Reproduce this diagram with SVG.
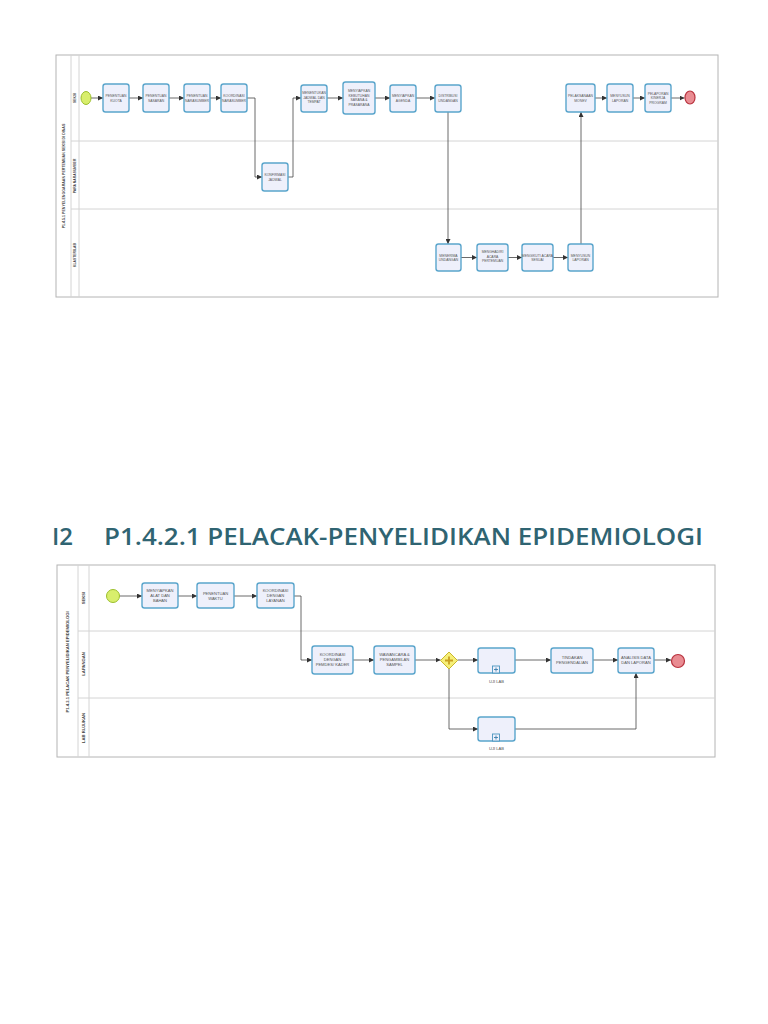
<svg xmlns="http://www.w3.org/2000/svg" width="768" height="1024" viewBox="0 0 768 1024">
<defs>
<marker id="ah" viewBox="0 0 6 6" refX="6" refY="3" markerWidth="5" markerHeight="5" orient="auto" markerUnits="userSpaceOnUse"><path d="M0,0 L6,3 L0,6 Z" fill="#333"/></marker>
<style>
.pool{fill:#fff;stroke:#b4b4b4;stroke-width:1}
.lane{stroke:#d4d4d4;stroke-width:1;fill:none}
.task{fill:#eef0fb;stroke:#5aa5cc;stroke-width:1.4}
.t{font-family:"Liberation Sans",Arial,sans-serif;fill:#555;text-anchor:middle}
.s{font-size:3.4px}
.m{font-size:4.1px}
.lbl{font-family:"Liberation Sans",Arial,sans-serif;fill:#444;text-anchor:middle;font-weight:bold}
.c{fill:none;stroke:#444;stroke-width:0.8;marker-end:url(#ah)}
.start{fill:#d8ee6c;stroke:#9cbf2c;stroke-width:1}
.end{fill:#e98c92;stroke:#b8323e;stroke-width:1.2}
</style>
</defs>
<rect width="768" height="1024" fill="#fff"/>

<!-- Diagram 1 -->
<g id="pool1">
<rect class="pool" x="56" y="55" width="662" height="242"/>
<line class="lane" x1="71" y1="55" x2="71" y2="297"/>
<line class="lane" x1="79" y1="55" x2="79" y2="297"/>
<line class="lane" x1="71" y1="141" x2="718" y2="141"/>
<line class="lane" x1="71" y1="209" x2="718" y2="209"/>
<text class="lbl" font-size="3.6" transform="translate(64.5,176) rotate(-90)">P1.4.5.1 PENYELENGGARAAN PERTEMUAN SEKSI DI DINAS</text>
<text class="lbl" font-size="3.4" transform="translate(76,98) rotate(-90)">SEKSI</text>
<text class="lbl" font-size="3.4" transform="translate(76,176) rotate(-90)">PARA NARASUMBER</text>
<text class="lbl" font-size="3.4" transform="translate(76,255) rotate(-90)">KLASTER/LAB</text>
</g>

<g id="connectors1">
<line class="c" x1="91" y1="98" x2="103" y2="98"/>
<line class="c" x1="129" y1="98" x2="143" y2="98"/>
<line class="c" x1="169" y1="98" x2="184" y2="98"/>
<line class="c" x1="210" y1="98" x2="221" y2="98"/>
<polyline class="c" points="247,98 255,98 255,177 262,177"/>
<polyline class="c" points="288,177 293,177 293,98 301,98"/>
<line class="c" x1="327" y1="98" x2="343" y2="98"/>
<line class="c" x1="375" y1="98" x2="390" y2="98"/>
<line class="c" x1="416" y1="98" x2="435" y2="98"/>
<line class="c" x1="448" y1="112" x2="448" y2="244"/>
<line class="c" x1="461" y1="257.5" x2="477" y2="257.5"/>
<line class="c" x1="508" y1="257.5" x2="522" y2="257.5"/>
<line class="c" x1="553" y1="257.5" x2="568" y2="257.5"/>
<line class="c" x1="581" y1="244" x2="581" y2="112"/>
<line class="c" x1="595" y1="98" x2="607" y2="98"/>
<line class="c" x1="633" y1="98" x2="645" y2="98"/>
<line class="c" x1="671" y1="98" x2="684.5" y2="98"/>
</g>

<g id="start1"><ellipse class="start" cx="86" cy="98" rx="5" ry="6.5"/></g>
<g id="t1"><rect class="task" x="103" y="84" width="26" height="28" rx="2.5"/><text class="t s" x="116" y="97">PENENTUAN</text><text class="t s" x="116" y="101.5">KUOTA</text></g>
<g id="t2"><rect class="task" x="143" y="84" width="26" height="28" rx="2.5"/><text class="t s" x="156" y="97">PENENTUAN</text><text class="t s" x="156" y="101.5">SASARAN</text></g>
<g id="t3"><rect class="task" x="184" y="84" width="26" height="28" rx="2.5"/><text class="t s" x="197" y="97">PENENTUAN</text><text class="t s" x="197" y="101.5">NARASUMBER</text></g>
<g id="t4"><rect class="task" x="221" y="84" width="26" height="28" rx="2.5"/><text class="t s" x="234" y="97">KOORDINASI</text><text class="t s" x="234" y="101.5">NARASUMBER</text></g>
<g id="t5"><rect class="task" x="262" y="163" width="26" height="28" rx="2.5"/><text class="t s" x="275" y="176">KONFIRMASI</text><text class="t s" x="275" y="180.5">JADWAL</text></g>
<g id="t6"><rect class="task" x="301" y="85" width="26" height="27" rx="2.5"/><text class="t s" x="314" y="94">MENENTUKAN</text><text class="t s" x="314" y="98.5">JADWAL DAN</text><text class="t s" x="314" y="103">TEMPAT</text></g>
<g id="t7"><rect class="task" x="343" y="82" width="32" height="32" rx="2.5"/><text class="t s" x="359" y="92">MENYIAPKAN</text><text class="t s" x="359" y="96.5">KEBUTUHAN</text><text class="t s" x="359" y="101">SARANA &amp;</text><text class="t s" x="359" y="105.5">PRASARANA</text></g>
<g id="t8"><rect class="task" x="390" y="85" width="26" height="27" rx="2.5"/><text class="t s" x="403" y="97">MENYIAPKAN</text><text class="t s" x="403" y="101.5">AGENDA</text></g>
<g id="t9"><rect class="task" x="435" y="85" width="26" height="27" rx="2.5"/><text class="t s" x="448" y="97">DISTRIBUSI</text><text class="t s" x="448" y="101.5">UNDANGAN</text></g>
<g id="t10"><rect class="task" x="566" y="84" width="29" height="28" rx="2.5"/><text class="t s" x="580.5" y="97">PELAKSANAAN</text><text class="t s" x="580.5" y="101.5">MONEV</text></g>
<g id="t11"><rect class="task" x="607" y="84" width="26" height="28" rx="2.5"/><text class="t s" x="620" y="97">MENYUSUN</text><text class="t s" x="620" y="101.5">LAPORAN</text></g>
<g id="t12"><rect class="task" x="645" y="84" width="26" height="28" rx="2.5"/><text class="t s" x="658" y="94.5">PELAPORAN</text><text class="t s" x="658" y="99">KINERJA</text><text class="t s" x="658" y="103.5">PROGRAM</text></g>
<g id="end1"><ellipse class="end" cx="690" cy="97.5" rx="5" ry="6.5"/></g>
<g id="t13"><rect class="task" x="436" y="244" width="25" height="27" rx="2.5"/><text class="t s" x="448.5" y="256.5">MENERIMA</text><text class="t s" x="448.5" y="261">UNDANGAN</text></g>
<g id="t14"><rect class="task" x="477" y="244" width="31" height="27" rx="2.5"/><text class="t s" x="492.5" y="253">MENGHADIRI</text><text class="t s" x="492.5" y="257.5">ACARA</text><text class="t s" x="492.5" y="262">PERTEMUAN</text></g>
<g id="t15"><rect class="task" x="522" y="244" width="31" height="27" rx="2.5"/><text class="t s" x="537.5" y="256.5">MENGIKUTI ACARA</text><text class="t s" x="537.5" y="261">SESUAI</text></g>
<g id="t16"><rect class="task" x="568" y="244" width="25" height="27" rx="2.5"/><text class="t s" x="580.5" y="256.5">MENYUSUN</text><text class="t s" x="580.5" y="261">LAPORAN</text></g>

<!-- Heading -->
<g id="heading">
<text x="52" y="545" font-family="'Open Sans','Noto Sans',sans-serif" font-size="24" font-weight="600" fill="#2f6472">I2</text>
<text x="104" y="545" font-family="'Open Sans','Noto Sans',sans-serif" font-size="24" font-weight="600" fill="#2f6472" textLength="599" lengthAdjust="spacingAndGlyphs">P1.4.2.1 PELACAK-PENYELIDIKAN EPIDEMIOLOGI</text>
</g>

<!-- Diagram 2 -->
<g id="pool2">
<rect class="pool" x="57" y="565" width="658" height="192"/>
<line class="lane" x1="78" y1="565" x2="78" y2="757"/>
<line class="lane" x1="89" y1="565" x2="89" y2="757"/>
<line class="lane" x1="78" y1="631" x2="715" y2="631"/>
<line class="lane" x1="78" y1="698" x2="715" y2="698"/>
<text class="lbl" font-size="4.2" transform="translate(69,662) rotate(-90)">P1.4.2.1 PELACAK PENYELIDIKAN EPIDEMIOLOGI</text>
<text class="lbl" font-size="4.2" transform="translate(85,598) rotate(-90)">SEKSI</text>
<text class="lbl" font-size="4.2" transform="translate(85,664) rotate(-90)">LAPANGAN</text>
<text class="lbl" font-size="4.2" transform="translate(85,728) rotate(-90)">LAB RUJUKAN</text>
</g>

<g id="connectors2">
<line class="c" x1="119.5" y1="596" x2="142" y2="596"/>
<line class="c" x1="178" y1="596" x2="197" y2="596"/>
<line class="c" x1="234" y1="596" x2="257" y2="596"/>
<polyline class="c" points="294,596 301,596 301,660 312,660"/>
<line class="c" x1="353" y1="660" x2="374" y2="660"/>
<line class="c" x1="415" y1="660" x2="440.5" y2="660"/>
<line class="c" x1="457.5" y1="660" x2="478" y2="660"/>
<line class="c" x1="515" y1="660" x2="551" y2="660"/>
<line class="c" x1="593" y1="660" x2="618" y2="660"/>
<line class="c" x1="654" y1="660" x2="671" y2="660"/>
<polyline class="c" points="449,669 449,729 478,729"/>
<polyline class="c" points="515,729 636,729 636,673"/>
</g>

<g id="start2"><circle class="start" cx="113" cy="596" r="6.5"/></g>
<g id="a1"><rect class="task" x="142" y="583" width="36" height="25" rx="2.5"/><text class="t m" x="160" y="592">MENYIAPKAN</text><text class="t m" x="160" y="597.2">ALAT DAN</text><text class="t m" x="160" y="602.4">BAHAN</text></g>
<g id="a2"><rect class="task" x="197" y="583" width="37" height="25" rx="2.5"/><text class="t m" x="215.5" y="594.5">PENENTUAN</text><text class="t m" x="215.5" y="599.7">WAKTU</text></g>
<g id="a3"><rect class="task" x="257" y="583" width="37" height="25" rx="2.5"/><text class="t m" x="275.5" y="592">KOORDINASI</text><text class="t m" x="275.5" y="597.2">DENGAN</text><text class="t m" x="275.5" y="602.4">LAYANAN</text></g>
<g id="a4"><rect class="task" x="312" y="646" width="41" height="28" rx="2.5"/><text class="t m" x="332.5" y="656">KOORDINASI</text><text class="t m" x="332.5" y="661.2">DENGAN</text><text class="t m" x="332.5" y="666.4">PEMDES/ KADER</text></g>
<g id="a5"><rect class="task" x="374" y="646" width="41" height="28" rx="2.5"/><text class="t m" x="394.5" y="656">WAWANCARA &amp;</text><text class="t m" x="394.5" y="661.2">PENGAMBILAN</text><text class="t m" x="394.5" y="666.4">SAMPEL</text></g>
<g id="gw"><path d="M449,652 L457.5,660.5 L449,669 L440.5,660.5 Z" fill="#f6ef78" stroke="#c9b72c" stroke-width="1"/><path d="M449,656.5 V664.5 M445,660.5 H453" stroke="#c9a020" stroke-width="1.8"/></g>
<g id="a6"><rect class="task" x="478" y="648" width="37" height="25" rx="2.5"/><rect x="492.5" y="666" width="7" height="7" fill="#eef0fb" stroke="#4a95bf" stroke-width="0.9"/><path d="M496,667.5 V671.5 M494,669.5 H498" stroke="#3a7fad" stroke-width="0.9"/><text class="t m" x="496.5" y="683">UJI LAB</text></g>
<g id="a7"><rect class="task" x="551" y="648" width="42" height="25" rx="2.5"/><text class="t m" x="572" y="658.5">TINDAKAN</text><text class="t m" x="572" y="663.7">PENGENDALIAN</text></g>
<g id="a8"><rect class="task" x="618" y="648" width="36" height="25" rx="2.5"/><text class="t m" x="636" y="658.5">ANALISIS DATA</text><text class="t m" x="636" y="663.7">DAN LAPORAN</text></g>
<g id="end2"><circle class="end" cx="678" cy="661" r="6.5"/></g>
<g id="a9"><rect class="task" x="478" y="717" width="37" height="24" rx="2.5"/><rect x="492.5" y="734" width="7" height="7" fill="#eef0fb" stroke="#4a95bf" stroke-width="0.9"/><path d="M496,735.5 V739.5 M494,737.5 H498" stroke="#3a7fad" stroke-width="0.9"/><text class="t m" x="496.5" y="750">UJI LAB</text></g>
</svg>
